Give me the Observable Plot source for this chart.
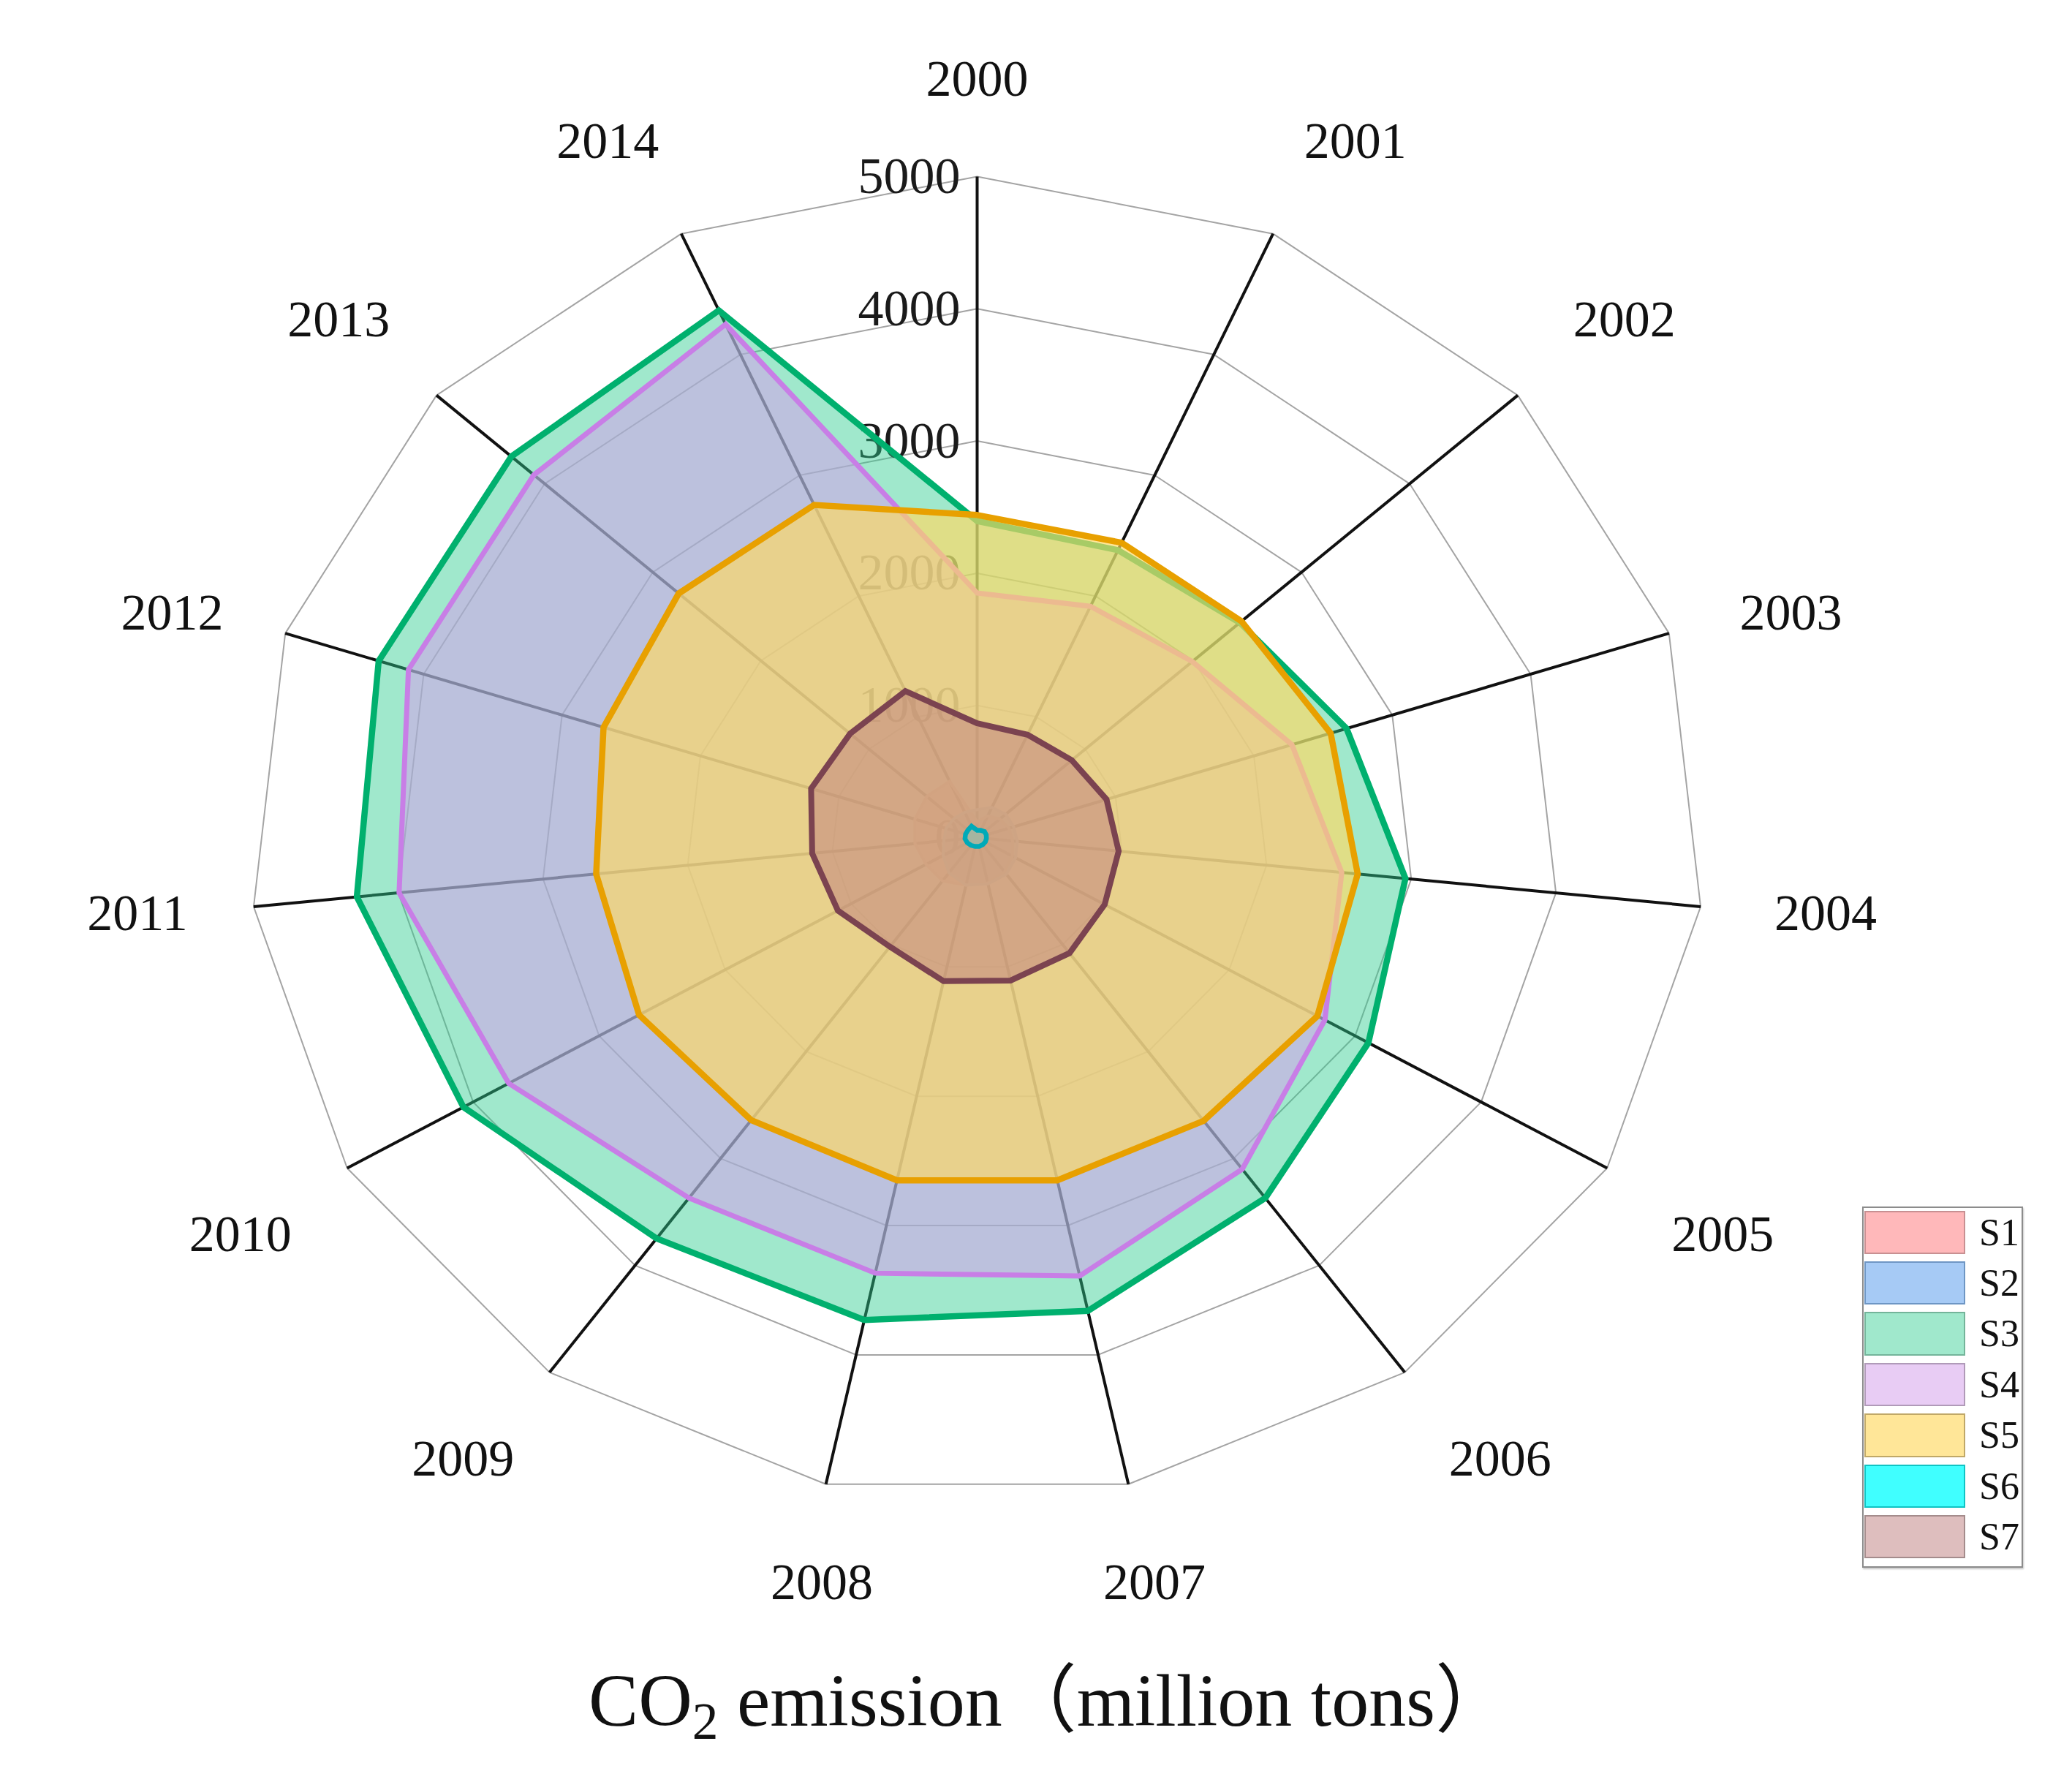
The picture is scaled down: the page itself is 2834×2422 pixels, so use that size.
<!DOCTYPE html>
<html>
<head>
<meta charset="utf-8">
<script src="https://cdn.jsdelivr.net/npm/d3@7"></script>
<script src="https://cdn.jsdelivr.net/npm/@observablehq/plot@0.6"></script>
<style>
  html, body { margin: 0; padding: 0; background: #fff; }
  #wrap { position: relative; width: 2834px; height: 2422px; overflow: hidden;
          font-family: "Liberation Serif", "Noto Sans CJK SC", serif; color: #111; }
  #chart { position: absolute; left: 0; top: 0; }
  #legend { position: absolute; left: 2547px; top: 1650px; width: 220px; height: 494px;
            box-sizing: border-box; border: 2px solid #8c8c8c; background: #fff;
            box-shadow: 1px 2px 2px rgba(0,0,0,0.22); }
  .sw { position: absolute; left: 1px; width: 138px; height: 59.5px; box-sizing: border-box; border: 2px solid #999; }
  .lb { position: absolute; left: 158px; height: 59.5px; line-height: 59.5px; font-size: 52px; color: #111; }
  #title { position: absolute; left: 18px; width: 2834px; top: 2275px; text-align: center;
           font-size: 102px; line-height: 1; color: #111; white-space: pre;
           font-family: "Liberation Serif", "Noto Sans CJK SC", serif; }
  #title sub { font-size: 0.7em; vertical-align: -0.25em; line-height: 0; }
</style>
</head>
<body>
<div id="wrap">
  <div id="chart"></div>
  <div id="legend"></div>
  <div id="title">CO<sub>2</sub> emission（million tons）</div>
</div>
<script>
// ---------- data ----------
const years = ["2000","2001","2002","2003","2004","2005","2006","2007","2008","2009","2010","2011","2012","2013","2014"];
const seriesNames = ["S1","S2","S3","S4","S5","S6","S7"];
const S1 = [120, 180, 210, 230, 245, 280, 320, 350, 368, 405, 405, 430, 450, 466, 466];
const S2 = [212, 250, 265, 264, 278, 305, 342, 358, 368, 330, 270, 230, 225, 215, 210];
const S3 = [2395, 2380, 2430, 2670, 2960, 3105, 3370, 3660, 3730, 3748, 4077, 4287, 4325, 4308, 4365];
const S4 = [1850, 1915, 1990, 2275, 2520, 2760, 3100, 3390, 3368, 3370, 3718, 3995, 4110, 4100, 4250];
const S5 = [2440, 2442, 2445, 2555, 2630, 2700, 2648, 2650, 2650, 2642, 2683, 2633, 2700, 2760, 2755];
const S6 = [55, 60, 68, 66, 64, 65, 66, 68, 68, 72, 78, 84, 84, 85, 95];
const S7 = [865, 852, 875, 935, 978, 1012, 1080, 1105, 1110, 1020, 1105, 1140, 1200, 1175, 1213];
const seriesValues = [S1, S2, S3, S4, S5, S6, S7];
const ringValues = [1000, 2000, 3000, 4000, 5000];
const tickValues = [0, 1000, 2000, 3000, 4000, 5000];
const maxValue = 5000;
const labelRadius = 5500;

// ---------- styles ----------
const strokeColors = ["#f0a4a4", "#92b8e8", "#00b06e", "#c87ee6", "#e8a000", "#00aab8", "#7b4350"];
const fillColors   = ["#ff4e53", "#217ae6", "#2ccc8e", "#d4a0ea", "#ffd962", "#60e0e0", "#bd7d7d"];
const fillOpac     = [0.4, 0.4, 0.45, 0.54, 0.66, 0.35, 0.5];
const strokeWidths = [4, 4, 8.5, 7, 8.5, 6.5, 8];
const legendFills   = ["#ffb8ba", "#a6caf5", "#a0e8cc", "#e8ccf4", "#ffe698", "#40ffff", "#debebe"];
const legendBorders = ["#c89092", "#6e96c4", "#74b49a", "#b09ab8", "#c0a868", "#10c4c4", "#a48c8c"];
const drawOrder = [0, 1, 2, 3, 4, 6, 5];

// ---------- geometry helpers (polar -> cartesian data units) ----------
const n = years.length;
const ang = i => i * 2 * Math.PI / n;
const px = (v, i) => v * Math.sin(ang(i));
const py = (v, i) => v * Math.cos(ang(i));

const cx = 1336, cy = 1145, rx = 995, ry = 904;
const kx = rx / maxValue, ky = ry / maxValue;   // pixels per data unit

// label box offsets (pixels) depending on the side of the chart
const offX = i => { const s = Math.sin(ang(i)); return s > 0.3 ? 72 : s < -0.3 ? -60 : (Math.abs(s) > 0.1 ? 15 : 0); };
const offY = i => { const c = Math.cos(ang(i)); return c > 0.45 ? 43 : c < -0.45 ? -46 : 0; };

const yearRows = years.map((year, i) => ({year, i}));
const ringRows = ringValues.flatMap(r => years.map((year, i) => ({ring: r, i, value: r})));

const marks = [
  Plot.line(ringRows, {x: d => px(d.value, d.i), y: d => py(d.value, d.i), z: "ring",
    curve: "linear-closed", stroke: "#a4a4a4", strokeWidth: 2, strokeLinejoin: "miter"}),
  Plot.link(yearRows, {x1: () => 0, y1: () => 0, x2: d => px(maxValue, d.i), y2: d => py(maxValue, d.i),
    stroke: "#111", strokeWidth: 4}),
  Plot.text(tickValues, {x: () => 0, y: d => d, text: d => String(d), textAnchor: "end", dx: -23,
    fontSize: 70, fill: "#1a1a1a", fontFamily: "Liberation Serif"})
];

for (const s of drawOrder) {
  const rows = seriesValues[s].map((value, i) => ({series: seriesNames[s], year: years[i], i, value}));
  marks.push(Plot.line(rows, {
    x: d => px(d.value, d.i), y: d => py(d.value, d.i),
    curve: "linear-closed",
    stroke: strokeColors[s], strokeWidth: strokeWidths[s],
    fill: fillColors[s], fillOpacity: fillOpac[s],
    strokeLinejoin: "miter", strokeMiterlimit: 4
  }));
}

marks.push(Plot.text(yearRows, {
  x: d => px(labelRadius, d.i) + offX(d.i) / kx,
  y: d => py(labelRadius, d.i) + offY(d.i) / ky,
  text: "year", textAnchor: "middle", fontSize: 70, fill: "#111", fontFamily: "Liberation Serif"}));

const chart = Plot.plot({
  width: 2834,
  height: 2250,
  margin: 0,
  x: {domain: [-maxValue, maxValue], range: [cx - rx, cx + rx], axis: null},
  y: {domain: [-maxValue, maxValue], range: [cy + ry, cy - ry], axis: null},
  style: {fontFamily: "Liberation Serif", background: "transparent", overflow: "visible"},
  marks
});
document.getElementById("chart").appendChild(chart);

// ---------- legend ----------
const legend = document.getElementById("legend");
seriesNames.forEach((name, i) => {
  const top = 3.5 + i * 69.4;
  const sw = document.createElement("div");
  sw.className = "sw";
  sw.style.top = top + "px";
  sw.style.background = legendFills[i];
  sw.style.borderColor = legendBorders[i];
  legend.appendChild(sw);
  const lb = document.createElement("div");
  lb.className = "lb";
  lb.style.top = top + "px";
  lb.textContent = name;
  legend.appendChild(lb);
});
</script>
</body>
</html>
